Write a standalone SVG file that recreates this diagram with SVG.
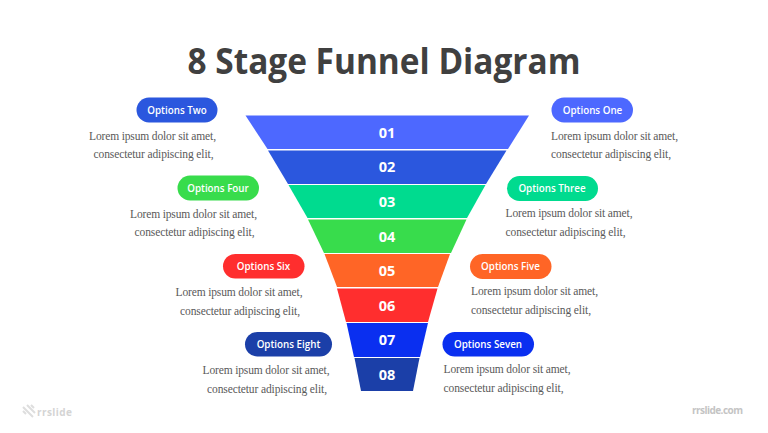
<svg xmlns="http://www.w3.org/2000/svg" width="768" height="433" viewBox="0 0 768 433">
<style>
text{font-family:"Open Sans","Noto Sans",sans-serif}
.t{font-size:36px;font-weight:700;fill:#404040;text-anchor:middle}
.n{font-size:14.5px;font-weight:700;fill:#fff;text-anchor:middle}
.p{font-size:9.8px;font-weight:600;fill:#fff;text-anchor:middle}
.b{font-family:"Liberation Serif",serif;font-size:11.500px;fill:#595959}
.w{font-size:10px;font-weight:700;fill:#c4c4c4}
</style>
<rect width="768" height="433" fill="#fff"/>
<text class="t" x="384" y="74" textLength="393" lengthAdjust="spacingAndGlyphs">8 Stage Funnel Diagram</text>
<g id="stage-01"><polygon points="245.5,115.5 529,115.5 508,149 267.5,149" fill="#4d68ff"/><text class="n" x="387" y="138">01</text></g>
<g id="stage-02"><polygon points="268,150.5 506.5,150.5 486,184 288,184" fill="#2b57de"/><text class="n" x="387" y="172">02</text></g>
<g id="stage-03"><polygon points="288.5,185 485.5,185 467,218 307.5,218" fill="#00db8f"/><text class="n" x="387" y="207">03</text></g>
<g id="stage-04"><polygon points="308,219.5 466.5,219.5 451,253 324,253" fill="#38dc4c"/><text class="n" x="387" y="241.500">04</text></g>
<g id="stage-05"><polygon points="324.5,254 450,254 438,287 337,287" fill="#ff6526"/><text class="n" x="387" y="276">05</text></g>
<g id="stage-06"><polygon points="337,288.5 437.5,288.5 428,322 346,322" fill="#ff2e2e"/><text class="n" x="387" y="311">06</text></g>
<g id="stage-07"><polygon points="346.5,323 428,323 420,357 354,357" fill="#0a2ff0"/><text class="n" x="387" y="345">07</text></g>
<g id="stage-08"><polygon points="354.5,358 419.5,358 413,391 361,391" fill="#1b3fa8"/><text class="n" x="387" y="380">08</text></g>
<g id="option-two"><rect x="136.500" y="97.500" width="81" height="25" rx="12.500" fill="#2b57de"/><text class="p" x="177" y="114">Options Two</text><text class="b" x="89" y="140" textLength="127">Lorem ipsum dolor sit amet,</text><text class="b" x="93.500" y="158" textLength="120">consectetur adipiscing elit,</text></g>
<g id="option-one"><rect x="551.500" y="97.500" width="81.500" height="25" rx="12.500" fill="#4d68ff"/><text class="p" x="592.500" y="114">Options One</text><text class="b" x="551" y="140" textLength="127">Lorem ipsum dolor sit amet,</text><text class="b" x="551" y="158" textLength="120">consectetur adipiscing elit,</text></g>
<g id="option-four"><rect x="177.500" y="175.500" width="81.500" height="25" rx="12.500" fill="#38dc4c"/><text class="p" x="218" y="192">Options Four</text><text class="b" x="130" y="218" textLength="127">Lorem ipsum dolor sit amet,</text><text class="b" x="134.500" y="236" textLength="120">consectetur adipiscing elit,</text></g>
<g id="option-three"><rect x="507" y="176" width="91" height="25" rx="12.500" fill="#00db8f"/><text class="p" x="552" y="192">Options Three</text><text class="b" x="505.500" y="217" textLength="127">Lorem ipsum dolor sit amet,</text><text class="b" x="505.500" y="236" textLength="120">consectetur adipiscing elit,</text></g>
<g id="option-six"><rect x="223" y="254" width="81.500" height="24.500" rx="12.250" fill="#ff2e2e"/><text class="p" x="263.500" y="270">Options Six</text><text class="b" x="175.500" y="296" textLength="127">Lorem ipsum dolor sit amet,</text><text class="b" x="180" y="315" textLength="120">consectetur adipiscing elit,</text></g>
<g id="option-five"><rect x="470" y="254" width="81.500" height="25" rx="12.500" fill="#ff6526"/><text class="p" x="510.500" y="270">Options Five</text><text class="b" x="471" y="295" textLength="127">Lorem ipsum dolor sit amet,</text><text class="b" x="471" y="314" textLength="120">consectetur adipiscing elit,</text></g>
<g id="option-eight"><rect x="245" y="332" width="87" height="24.500" rx="12.250" fill="#1b3fa8"/><text class="p" x="288.500" y="348">Options Eight</text><text class="b" x="202.500" y="374" textLength="127">Lorem ipsum dolor sit amet,</text><text class="b" x="207" y="393" textLength="120">consectetur adipiscing elit,</text></g>
<g id="option-seven"><rect x="442.500" y="332" width="91.500" height="24.500" rx="12.250" fill="#0a2ff0"/><text class="p" x="488" y="348">Options Seven</text><text class="b" x="443.500" y="373" textLength="127">Lorem ipsum dolor sit amet,</text><text class="b" x="443.500" y="392" textLength="120">consectetur adipiscing elit,</text></g>
<g id="logo-left"><path d="M23 407l10 10M27 405l8 8M23 411l3 3M31 405l3 3" stroke="#dedede" stroke-width="2" fill="none"/><text class="w" x="37" y="416" textLength="35" fill="#d4d4d4" style="fill:#d4d4d4">rrslide</text></g>
<g id="logo-right"><text class="w" x="692" y="414" textLength="51">rrslide.com</text></g>
</svg>
